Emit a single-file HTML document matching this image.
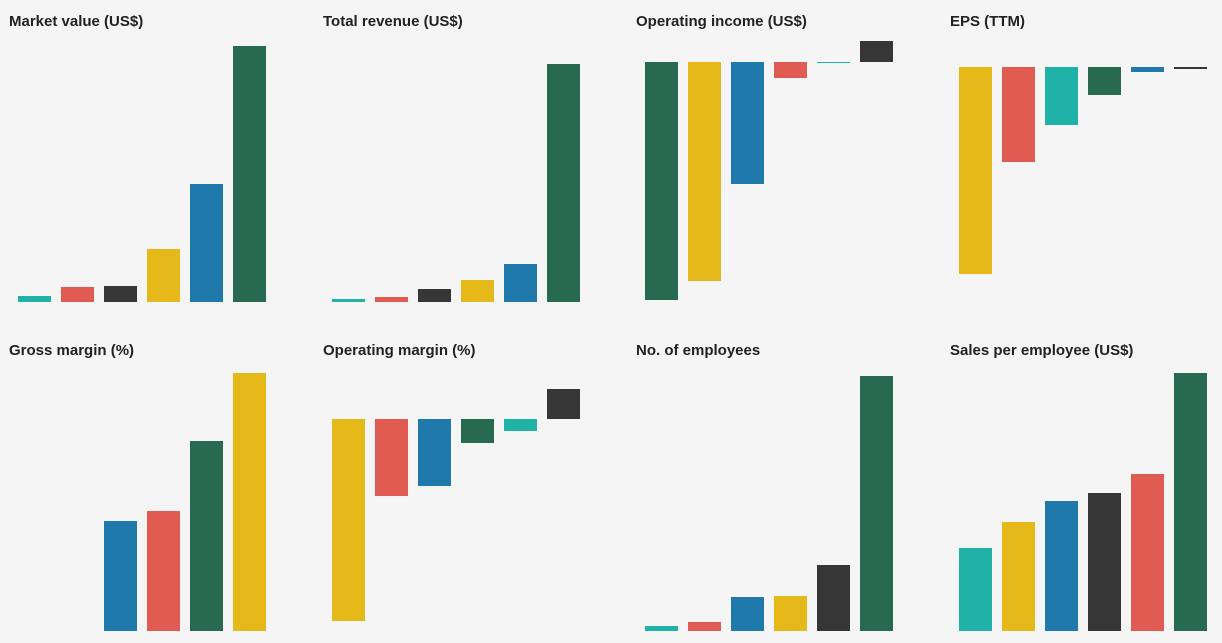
<!DOCTYPE html>
<html><head><meta charset="utf-8"><style>
body{margin:0;background:#f5f5f5;width:1222px;height:643px;overflow:hidden;font-family:"Liberation Sans",sans-serif}
svg{display:block}
</style></head><body>
<svg id="c" width="1222" height="643"></svg>
<script>
const titles=["Market value (US$)","Total revenue (US$)","Operating income (US$)","EPS (TTM)","Gross margin (%)","Operating margin (%)","No. of employees","Sales per employee (US$)"];
const colorsMarket=["teal","red","dark","yellow","blue","green"];
const valuesMarket=[6,15,16,53,118,256];
const colorsRevenue=["teal","red","dark","yellow","blue","green"];
const valuesRevenue=[3,5,13,22,38,238];
const colorsOpIncome=["green","yellow","blue","red","teal","dark"];
const valuesOpIncome=[-238,-219,-122,-16,-1,21];
const colorsEps=["yellow","red","teal","green","blue","dark"];
const valuesEps=[-207,-95,-58,-28,-5,-2];
const colorsGross=["teal","dark","blue","red","green","yellow"];
const valuesGross=[0,0,110,120,190,258];
const colorsOpMargin=["yellow","red","blue","green","teal","dark"];
const valuesOpMargin=[-202,-77,-67,-24,-12,30];
const colorsEmployees=["teal","red","blue","yellow","dark","green"];
const valuesEmployees=[5,9,34,35,66,255];
const colorsSales=["teal","yellow","blue","dark","red","green"];
const valuesSales=[83,109,130,138,157,258];
const zeroLines=[302,302,62,67,631,419,631,631];
const palette={teal:"#20b2a6",red:"#e05c52",dark:"#363636",yellow:"#e6b91a",blue:"#1f7aab",green:"#276a51"};
const panels=[[colorsMarket,valuesMarket],[colorsRevenue,valuesRevenue],[colorsOpIncome,valuesOpIncome],[colorsEps,valuesEps],[colorsGross,valuesGross],[colorsOpMargin,valuesOpMargin],[colorsEmployees,valuesEmployees],[colorsSales,valuesSales]];
const svg=document.getElementById('c');
const NS="http://www.w3.org/2000/svg";
const panelX=[9,323,636,950];
panels.forEach((p,pi)=>{
  const col=pi%4,row=Math.floor(pi/4);
  const px=panelX[col];
  const g=document.createElementNS(NS,'g');
  
  
  svg.appendChild(g);
  const t=document.createElementNS(NS,'text');
  
  
  t.setAttribute('x',px);t.setAttribute('y',row?355:26);
  t.setAttribute('font-size','15');t.setAttribute('font-weight','bold');t.setAttribute('fill','#222');
  t.textContent=titles[pi];g.appendChild(t);
  const zero=zeroLines[pi];
  const yPos=v=>zero-v;
  const xPos=i=>px+9+i*43;
  p[1].forEach((v,i)=>{
    if(v===0)return;
    const r=document.createElementNS(NS,'rect');
    
    
    const y1=yPos(v),y0=yPos(0);
    r.setAttribute('x',xPos(i));r.setAttribute('width',33);
    r.setAttribute('y',Math.min(y0,y1));r.setAttribute('height',Math.max(1,Math.abs(y1-y0)));
    r.setAttribute('fill',palette[p[0][i]]);
    g.appendChild(r);
  });
});
</script>
</body></html>
